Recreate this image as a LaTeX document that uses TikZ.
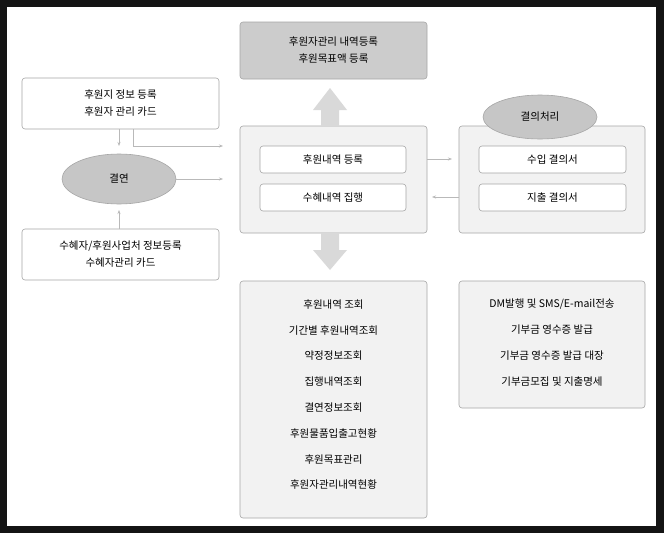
\documentclass[tikz,border=0pt]{standalone}
\usepackage{fontspec}
\setmainfont{Noto Sans CJK KR}
\usetikzlibrary{shapes.geometric,arrows.meta}
\tikzset{
 box/.style={draw=gray!70,rounded corners=3pt,fill=white,line width=0.6pt},
 ell/.style={draw=gray!70,ellipse,fill=gray!45,line width=0.6pt},
 thin/.style={draw=gray!55,line width=0.6pt,-{Stealth[length=4pt,width=3pt]}},
 big/.style={fill=gray!30,draw=none},
 txt/.style={font=\fontsize{10.5}{25}\selectfont,text=black,align=center},
}
\begin{document}
\begin{tikzpicture}[x=1pt,y=-1pt]
\fill[black!92] (0,0) rectangle (664,533);
\fill[white] (7,7) rectangle (656,526);
\useasboundingbox (0,0) rectangle (664,533);
% top gray
\draw[box,fill=gray!40] (240,22) rectangle (427,79);
\node[txt,font=\fontsize{10.5}{17}\selectfont] (top) at (333.5,50.5) {후원자관리 내역등록\\후원목표액 등록};
% left
\draw[box] (22,78) rectangle (219,129);
\node[txt,font=\fontsize{10.5}{17}\selectfont] (l1) at (120.5,103.5) {후원지 정보 등록\\후원자 관리 카드};
\node[ell,minimum width=114pt,minimum height=50pt,txt] (gy) at (119,179) {결연};
\draw[box] (22,229) rectangle (219,280);
\node[txt,font=\fontsize{10.5}{17}\selectfont] (l2) at (120.5,254.5) {수혜자/후원사업처 정보등록\\수혜자관리 카드};
% center
\draw[box,fill=gray!10] (240,126) rectangle (427,233);
\draw[box] (260,146) rectangle (406,173);
\node[txt] (c1) at (333,159.5) {후원내역 등록};
\draw[box] (260,184) rectangle (406,211);
\node[txt] (c2) at (333,197.5) {수혜내역 집행};
% right
\draw[box,fill=gray!10] (459,126) rectangle (645,233);
\node[ell,minimum width=114pt,minimum height=44pt,txt] (gu) at (540,117) {결의처리};
\draw[box] (479,146) rectangle (626,173);
\node[txt] (r1) at (552.5,159.5) {수입 결의서};
\draw[box] (479,184) rectangle (626,211);
\node[txt] (r2) at (552.5,197.5) {지출 결의서};
% bottom
\draw[box,fill=gray!10] (240,281) rectangle (427,518);
\node[txt,anchor=north,font=\fontsize{10.5}{25.8}\selectfont] (b1) at (333.5,296) {후원내역 조회\\기간별 후원내역조회\\약정정보조회\\집행내역조회\\결연정보조회\\후원물품입출고현황\\후원목표관리\\후원자관리내역현황};
\draw[box,fill=gray!10] (459,281) rectangle (645,408);
\node[txt,anchor=north,font=\fontsize{10.5}{25.8}\selectfont] (b2) at (552,295.5) {DM발행 및 SMS/E-mail전송\\기부금 영수증 발급\\기부금 영수증 발급 대장\\기부금모집 및 지출명세};
% big arrows
\fill[big] (321,126) -- (321,110) -- (313,110) -- (330,88) -- (347,110) -- (339,110) -- (339,126) -- cycle;
\fill[big] (321,233) -- (321,250) -- (313,250) -- (330,270) -- (347,250) -- (339,250) -- (339,233) -- cycle;
% thin arrows
\coordinate (a1) at (119,146);
\draw[thin] (119,129) -- (a1);
\coordinate (a2) at (223,146);
\draw[thin] (133,129) |- (a2);
\coordinate (a3) at (223,179);
\draw[thin] (gy.east) -- (a3);
\coordinate (a4) at (119,210);
\draw[thin] (119,229) -- (a4);
\draw[thin] (427,159) -- (452,159);
\draw[thin] (459,197) -- (432,197);
\end{tikzpicture}
\end{document}
